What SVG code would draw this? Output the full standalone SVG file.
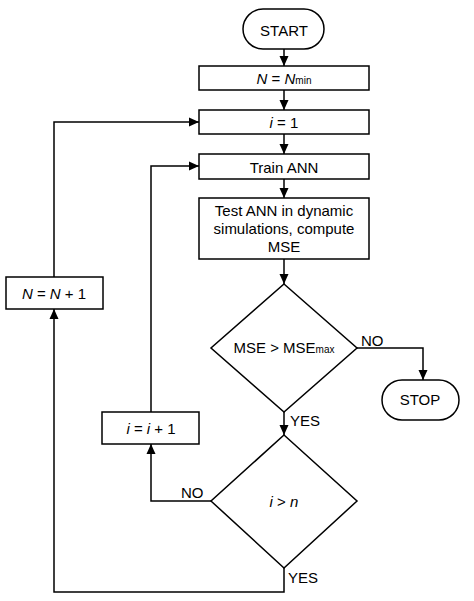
<svg xmlns="http://www.w3.org/2000/svg" width="474" height="601" viewBox="0 0 474 601">
<style>
.b{fill:#fff;stroke:#000;stroke-width:1.5}
.c{fill:none;stroke:#000;stroke-width:1.5}
text{font-family:"Liberation Sans",Arial,sans-serif;font-size:15px;fill:#000}
.m{text-anchor:middle}
.s{font-size:10px}
.it{font-style:italic}
</style>
<defs>
<marker id="a" markerUnits="userSpaceOnUse" markerWidth="10" markerHeight="10" viewBox="0 0 10 10" refX="10" refY="5" orient="auto">
<path d="M0,0.5L10,5L0,9.5Z" fill="#000"/>
</marker>
</defs>
<rect width="474" height="601" fill="#fff"/>
<g id="connectors">
<path class="c" d="M284,49V66" marker-end="url(#a)"/>
<path class="c" d="M284,90V110" marker-end="url(#a)"/>
<path class="c" d="M284,134V154" marker-end="url(#a)"/>
<path class="c" d="M284,179V198" marker-end="url(#a)"/>
<path class="c" d="M284,259V284" marker-end="url(#a)"/>
<path class="c" d="M357,348H423V380" marker-end="url(#a)"/>
<path class="c" d="M284,412V435" marker-end="url(#a)"/>
<path class="c" d="M211,501H151V444" marker-end="url(#a)"/>
<path class="c" d="M151,412V166H199" marker-end="url(#a)"/>
<path class="c" d="M284,568V592H54V309" marker-end="url(#a)"/>
<path class="c" d="M54,277V122H199" marker-end="url(#a)"/>
<text x="361" y="346">NO</text>
<text x="290" y="426">YES</text>
<text x="181" y="498">NO</text>
<text x="288" y="583">YES</text>
</g>
<g id="start"><rect class="b" x="243" y="9" width="81" height="40" rx="20"/><text class="m" x="284" y="36">START</text></g>
<g id="nmin"><rect class="b" x="199" y="66" width="170" height="24"/><text class="m" x="284" y="84"><tspan class="it">N</tspan> = <tspan class="it">N</tspan><tspan class="s">min</tspan></text></g>
<g id="i1"><rect class="b" x="199" y="110" width="170" height="24"/><text class="m" x="284" y="128"><tspan class="it">i</tspan> = 1</text></g>
<g id="train"><rect class="b" x="199" y="154" width="170" height="25"/><text class="m" x="284" y="173">Train ANN</text></g>
<g id="test"><rect class="b" x="199" y="198" width="170" height="61"/><text class="m" x="284" y="216">Test ANN in dynamic</text><text class="m" x="284" y="234">simulations, compute</text><text class="m" x="284" y="252">MSE</text></g>
<g id="d1"><path class="b" d="M284,284L357,348L284,412L211,348Z"/><text class="m" x="284" y="353">MSE &gt; MSE<tspan class="s">max</tspan></text></g>
<g id="stop"><rect class="b" x="382" y="380" width="77" height="40" rx="20"/><text class="m" x="420" y="405">STOP</text></g>
<g id="d2"><path class="b" d="M284,435L357,501L284,568L211,501Z"/><text class="m" x="284" y="507"><tspan class="it">i</tspan> &gt; <tspan class="it">n</tspan></text></g>
<g id="iinc"><rect class="b" x="102" y="412" width="97" height="32"/><text class="m" x="151" y="434"><tspan class="it">i</tspan> = <tspan class="it">i</tspan> + 1</text></g>
<g id="ninc"><rect class="b" x="6" y="277" width="97" height="32"/><text class="m" x="54" y="299"><tspan class="it">N</tspan> = <tspan class="it">N</tspan> + 1</text></g>
</svg>
